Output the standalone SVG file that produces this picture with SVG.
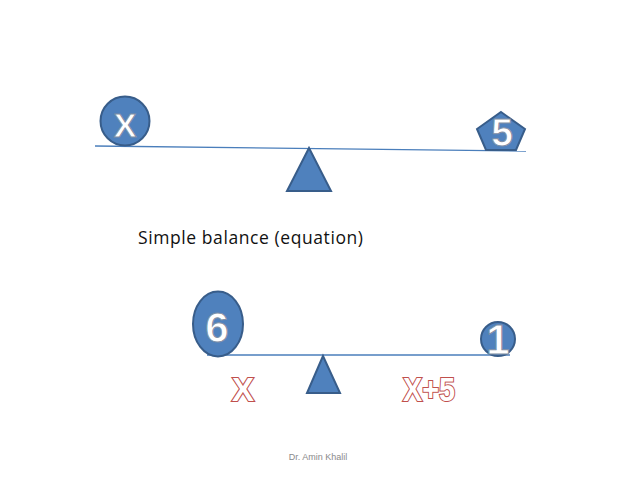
<svg xmlns="http://www.w3.org/2000/svg" width="638" height="478" viewBox="0 0 638 478">
<style>
.shape{fill:#4F81BD;stroke:#385D8A;stroke-width:2}
.beam{stroke:#4A7EBB;stroke-width:1.3;fill:none}
.w{font-family:"Liberation Sans",Arial,sans-serif;font-weight:bold;fill:#fff;stroke:#7f8fa6;stroke-width:1;text-anchor:middle}
.r{font-family:"Liberation Sans",Arial,sans-serif;font-weight:bold;fill:#fff;stroke:#C0504D;stroke-width:2.2;paint-order:stroke;text-anchor:middle;font-size:33px}
</style>
<rect width="638" height="478" fill="#fff"/>
<g id="connectors">
<line class="beam" x1="95" y1="146" x2="526" y2="151"/>
<line class="beam" x1="207" y1="355" x2="510" y2="355"/>
</g>
<g id="fulcrum1"><polygon class="shape" points="309,148 287,191 331,191"/></g>
<g id="weightX"><circle class="shape" cx="125" cy="121" r="24.5"/><text class="w" x="125" y="137" font-size="34">X</text></g>
<g id="weight5"><polygon class="shape" points="501,112 525,129 516,150 486,150 477,129"/><text class="w" x="502" y="146" font-size="39">5</text></g>
<g id="label"><text x="138" y="244" font-family="'Open Sans','Liberation Sans',sans-serif" font-size="17.5" fill="#111" textLength="225">Simple balance (equation)</text></g>
<g id="fulcrum2"><polygon class="shape" points="323,356 307,393 340,393"/></g>
<g id="weight6"><ellipse class="shape" cx="218" cy="324" rx="25" ry="32.5"/><text class="w" x="217" y="342" font-size="42">6</text></g>
<g id="weight1"><circle class="shape" cx="498" cy="339" r="17"/><text class="w" x="498" y="354" font-size="42" stroke="#999" stroke-width="1.2">1</text></g>
<g id="labelX"><text class="r" x="243" y="401">X</text></g>
<g id="labelX5"><text class="r" x="429" y="401" textLength="52" lengthAdjust="spacingAndGlyphs">X+5</text></g>
<g id="footer"><text x="318" y="460" font-family="'Liberation Sans',Arial,sans-serif" font-size="9" fill="#8a8a8a" text-anchor="middle">Dr. Amin Khalil</text></g>
</svg>
